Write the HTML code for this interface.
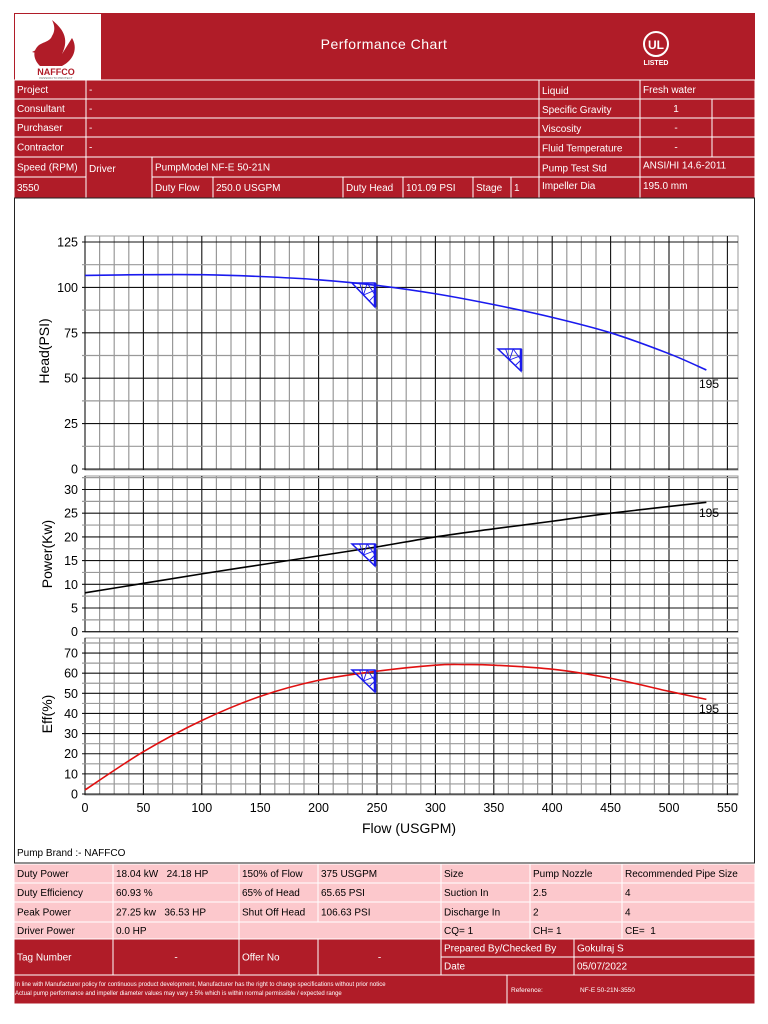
<!DOCTYPE html>
<html><head><meta charset="utf-8"><style>
body{margin:0;background:#fff;width:768px;height:1024px;overflow:hidden}
svg{display:block}
text{font-family:"Liberation Sans",sans-serif;white-space:pre}
</style></head><body>
<svg id="s" width="768" height="1024" viewBox="0 0 768 1024" xmlns="http://www.w3.org/2000/svg">
<rect x="0" y="0" width="768" height="1024" fill="#fff"/>
<rect x="14" y="13" width="741" height="67" fill="#b01c28"/>
<rect x="15" y="14" width="86" height="66" fill="#fff"/>
<path d="M52 20 C62 28 70 38 62 54 L72 38 C78 48 74 60 62 66 L40 66 C34 60 32 52 38 46 C42 42 50 42 52 36 C56 30 54 24 52 20 Z" fill="#b01c28"/>
<path d="M40 48 L32 52 L40 54 Z" fill="#b01c28"/>
<text x="56" y="75" font-size="9" font-weight="bold" fill="#b01c28" text-anchor="middle">NAFFCO</text>
<text x="56" y="79" font-size="3" fill="#666" text-anchor="middle">PASSION TO PROTECT</text>
<text x="384" y="49" font-size="14" fill="#fff" text-anchor="middle" letter-spacing="0.5">Performance Chart</text>
<circle cx="656" cy="44" r="12" fill="none" stroke="#fff" stroke-width="2"/>
<text x="656" y="49" font-size="12" font-weight="bold" fill="#fff" text-anchor="middle">UL</text>
<text x="656" y="65" font-size="7" font-weight="bold" fill="#fff" text-anchor="middle">LISTED</text>
<g id="hdr"></g>
<rect x="14.5" y="198" width="740" height="665" fill="#fff" stroke="#222" stroke-width="1"/>
<g id="chart"></g>
<text x="17" y="856" font-size="10" fill="#000">Pump Brand :- NAFFCO</text>
<g id="bot"></g>
</svg>
<script>
const NS="http://www.w3.org/2000/svg";
function el(p,t,a,txt){const e=document.createElementNS(NS,t);for(const k in a)e.setAttribute(k,a[k]);if(txt!==undefined)e.textContent=txt;p.appendChild(e);return e;}
const hdr=document.getElementById('hdr');
const R="#b01c28";
function cell(g,x,y,w,h,fill,txt,opt){opt=opt||{};el(g,'rect',{x:x,y:y,width:w,height:h,fill:fill,stroke:'#fff','stroke-width':1});
 if(txt){const anchor=opt.c?'middle':'start';el(g,'text',{x:opt.c?x+w/2:x+3,y:y+h/2+3.5+(opt.dy||0),'font-size':opt.fs||10,fill:opt.col||'#fff','text-anchor':anchor},txt);}}
const rows=[[80,99,'Project','Liquid','Fresh water'],[99,118,'Consultant','Specific Gravity','1'],[118,137,'Purchaser','Viscosity','-'],[137,157,'Contractor','Fluid Temperature','-']];
rows.forEach((r,i)=>{const y=r[0],h=r[1]-r[0];
 cell(hdr,14,y,72,h,R,r[2]);cell(hdr,86,y,453,h,R,'-');cell(hdr,539,y,101,h,R,r[3],{dy:1});
 if(i==0)cell(hdr,640,y,115,h,R,r[4]);else{cell(hdr,640,y,72,h,R,r[4],{c:1});cell(hdr,712,y,43,h,R,'');}});
cell(hdr,14,157,72,20,R,'Speed (RPM)');cell(hdr,14,177,72,21,R,'3550');
cell(hdr,86,157,66,41,R,'');el(hdr,'text',{x:89,y:172,'font-size':10,fill:'#fff'},'Driver');
cell(hdr,152,157,387,20,R,'PumpModel NF-E 50-21N');
cell(hdr,152,177,61,21,R,'Duty Flow');cell(hdr,213,177,130,21,R,'250.0 USGPM');
cell(hdr,343,177,60,21,R,'Duty Head');cell(hdr,403,177,70,21,R,'101.09 PSI');
cell(hdr,473,177,38,21,R,'Stage');cell(hdr,511,177,28,21,R,'1');
cell(hdr,539,157,101,20,R,'Pump Test Std',{dy:1});cell(hdr,640,157,115,20,R,'ANSI/HI 14.6-2011',{dy:-2});
cell(hdr,539,177,101,21,R,'Impeller Dia',{dy:-2});cell(hdr,640,177,115,21,R,'195.0 mm',{dy:-2});

const g=document.getElementById('chart');
const X0=85,PX=1.168,XR=738;
const xs=q=>X0+q*PX;
function panel(top,bot,y0,ppu,minor,major,maxv){
 el(g,'rect',{x:X0,y:top,width:XR-X0,height:bot-top,fill:'#fff',stroke:'#999','stroke-width':1});
 for(let q=0;xs(q)<=XR+0.5;q+=12.5){const x=xs(q),maj=q%50==0;
  el(g,'line',{x1:x,y1:top,x2:x,y2:bot,stroke:maj?'#111':'#999','stroke-width':maj?1.1:1.2});}
 for(let v=0;y0-v*ppu>=top-0.5;v+=minor){const y=y0-v*ppu,maj=Math.abs(v%major)<1e-6;
  el(g,'line',{x1:X0-3,y1:y,x2:XR,y2:y,stroke:maj?'#111':'#999','stroke-width':maj?1.1:1.2});
  if(maj&&v<=maxv)el(g,'text',{x:78,y:y+4.5,'font-size':12.5,fill:'#000','text-anchor':'end'},String(v));}
}
panel(236,470,469,1.816,12.5,25,125);
panel(476,632,631.7,4.74,2.5,5,30);
panel(638,795,794,2.013,5,10,70);
for(let q=0;q<=550;q+=50)el(g,'text',{x:xs(q),y:812,'font-size':12.5,fill:'#000','text-anchor':'middle'},String(q));
el(g,'text',{x:409,y:833,'font-size':14,fill:'#000','text-anchor':'middle'},'Flow (USGPM)');
el(g,'text',{x:0,y:0,'font-size':14,fill:'#000','text-anchor':'middle',transform:'translate(49,351) rotate(-90)'},'Head(PSI)');
el(g,'text',{x:0,y:0,'font-size':14,fill:'#000','text-anchor':'middle',transform:'translate(52,554) rotate(-90)'},'Power(Kw)');
el(g,'text',{x:0,y:0,'font-size':14,fill:'#000','text-anchor':'middle',transform:'translate(52,714) rotate(-90)'},'Eff(%)');
function curve(pts,y0,ppu,col){
 const P=pts.map(p=>[xs(p[0]),y0-p[1]*ppu]);let d='M'+P[0][0]+' '+P[0][1];
 for(let i=0;i<P.length-1;i++){const p0=P[Math.max(0,i-1)],p1=P[i],p2=P[i+1],p3=P[Math.min(P.length-1,i+2)];
  d+=` C${p1[0]+(p2[0]-p0[0])/6} ${p1[1]+(p2[1]-p0[1])/6} ${p2[0]-(p3[0]-p1[0])/6} ${p2[1]-(p3[1]-p1[1])/6} ${p2[0]} ${p2[1]}`;}
 el(g,'path',{d:d,fill:'none',stroke:col,'stroke-width':1.6});}
curve([[0,106.6],[50,107],[100,107],[150,106],[200,104.2],[250,101.1],[300,96.5],[350,90.5],[400,83.5],[450,75],[500,63.5],[532,54.5]],469,1.816,'#1a1aee');
curve([[0,8.2],[50,10.2],[100,12.2],[150,14.1],[200,16],[250,17.9],[300,20],[350,21.7],[400,23.3],[450,25],[532,27.3]],631.7,4.74,'#000');
curve([[0,2],[50,21],[100,36.5],[150,48.5],[200,56.5],[250,61],[300,64],[325,64.3],[350,64],[400,62],[450,57.5],[500,51],[532,47]],794,2.013,'#e01010');
[384,513,709].forEach(y=>el(g,'text',{x:709,y:y+4,'font-size':12,fill:'#000','text-anchor':'middle'},'195'));
function tri(x1,y1,x2,y3){const c='#1a1aee';
 el(g,'path',{d:`M${x1} ${y1} L${x2} ${y1} L${x2} ${y3} Z`,fill:'none',stroke:c,'stroke-width':1.5});
 el(g,'line',{x1:x2,y1:y1,x2:x2,y2:y3,stroke:c,'stroke-width':2.5});
 const w=x2-x1,h=y3-y1;
 el(g,'path',{d:`M${x1+w*0.33} ${y1} L${x1+w*0.5} ${y1+h*0.5} M${x1+w*0.66} ${y1} L${x1+w*0.5} ${y1+h*0.5} M${x1+w*0.66} ${y1} L${x2} ${y1+h*0.5} M${x2} ${y1+h*0.5} L${x1+w*0.75} ${y1+h*0.75} M${x2} ${y1+h*0.3} L${x1+w*0.5} ${y1+h*0.5}`,fill:'none',stroke:c,'stroke-width':0.9});}
tri(352,283,375,307);tri(498,349,521,371);tri(352,544,375,566);tri(352,670,375,692);

const b=document.getElementById('bot');const P="#fcc8cc",K="#000";
const br=[[864,19,['Duty Power','18.04 kW   24.18 HP','150% of Flow','375 USGPM','Size','Pump Nozzle','Recommended Pipe Size']],
[883,19,['Duty Efficiency','60.93 %','65% of Head','65.65 PSI','Suction In','2.5','4']],
[902,20,['Peak Power','27.25 kw   36.53 HP','Shut Off Head','106.63 PSI','Discharge In','2','4']],
[922,17,['Driver Power','0.0 HP','','','CQ= 1','CH= 1','CE=  1']]];
const bc=[14,113,239,318,441,530,622,755];
br.forEach((r,ri)=>{for(let i=0;i<7;i++){
 if(ri==3&&i==2){cell(b,bc[2],r[0],bc[4]-bc[2],r[1],P,'',{col:K});i=3;continue;}
 cell(b,bc[i],r[0],bc[i+1]-bc[i],r[1],P,r[2][i],{col:K,fs:10});}});
cell(b,14,939,99,36,R,'Tag Number');cell(b,113,939,126,36,R,'-',{c:1});
cell(b,239,939,79,36,R,'Offer No');cell(b,318,939,123,36,R,'-',{c:1});
cell(b,441,939,133,18,R,'Prepared By/Checked By');cell(b,574,939,181,18,R,'Gokulraj S');
cell(b,441,957,133,18,R,'Date');cell(b,574,957,181,18,R,'05/07/2022');
cell(b,14,975,493,29,R,'');cell(b,507,975,248,29,R,'');
el(b,'text',{x:15,y:986,'font-size':6,fill:'#fff'},'In line with Manufacturer policy for continuous product development, Manufacturer has the right to change specifications without prior notice');
el(b,'text',{x:15,y:995,'font-size':6,fill:'#fff'},'Actual pump performance and impeller diameter values may vary ± 5% which is within normal permissible / expected range');
el(b,'text',{x:511,y:992,'font-size':6.5,fill:'#fff'},'Reference:');
el(b,'text',{x:580,y:992,'font-size':6.5,fill:'#fff'},'NF-E 50-21N-3550');
</script>
</body></html>
